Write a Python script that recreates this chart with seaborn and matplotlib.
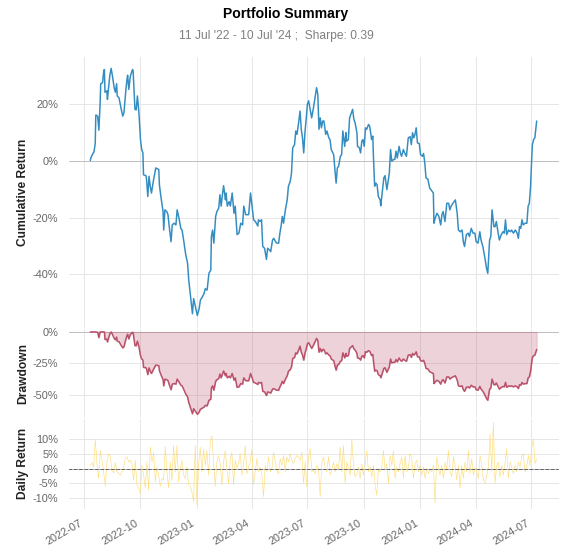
import matplotlib
matplotlib.use("Agg")
import matplotlib.pyplot as plt
import matplotlib.dates as mdates
from matplotlib.ticker import FuncFormatter
import pandas as pd
import seaborn as sns


START = pd.Timestamp("2022-07-11")
END = pd.Timestamp("2024-07-10")

# cumulative return (%), with day offsets from START
cum_days = [
    0, 1, 4, 6, 8, 9, 12, 14, 16, 17, 20, 22, 23, 24, 27, 28, 30, 32, 34, 36,
    39, 41, 43, 44, 47, 50, 53, 55, 58, 60, 61, 63, 65, 66, 69, 70, 73, 75, 77, 79,
    80, 82, 84, 86, 87, 91, 92, 94, 96, 98, 100, 103, 105, 107, 110, 112, 113, 115, 117, 119,
    120, 122, 125, 127, 129, 132, 134, 137, 140, 142, 145, 148, 150, 153, 156, 159, 161, 164, 167, 169,
    172, 175, 178, 180, 183, 186, 188, 191, 194, 197, 198, 200, 202, 205, 207, 210, 212, 214, 216, 218,
    221, 222, 224, 227, 229, 232, 235, 237, 240, 243, 246, 249, 251, 254, 259, 262,
    264, 267, 270, 274, 275, 278, 280, 282, 285, 288, 290, 293, 295, 298, 300, 303, 305, 308, 310, 312,
    314, 316, 319, 322, 324, 327, 329, 331, 334, 336, 338, 341, 343, 345, 347, 349, 351, 353, 355, 357,
    360, 362, 365, 368, 370, 372, 374, 376, 378, 380, 382, 385, 387, 390, 392, 394, 398, 400, 402, 404,
    406, 409, 411, 413, 416, 418, 419, 422, 424, 427, 429, 431, 433, 436, 437, 440, 442, 444, 446, 448,
    450, 452, 455, 457, 460, 462, 463, 465, 467, 469, 471, 474, 475, 478, 480, 482, 485, 487, 489, 491,
    493, 496, 498, 500, 502, 505, 507, 509,
    512, 514, 517, 520, 523, 525, 527, 529, 531, 533, 535, 538, 540, 543, 545, 547, 549, 552, 555, 558,
    561, 562, 564, 567, 570, 573, 575, 577, 580, 583, 586, 588, 590, 593, 597, 600, 602, 605, 608, 610,
    612, 615, 618, 620, 623, 626, 629, 631, 634, 637, 639, 642, 645, 648, 650, 653, 655, 657, 660, 662,
    664, 667, 669, 672, 675, 677, 679, 681, 684, 687, 689, 692, 695, 698, 700, 702, 704, 706, 708, 711,
    714, 716, 718, 720, 722, 723, 725, 727, 730,
]
cum_pct = [
    0, 1, 2.4, 3, 6, 16, 15.6, 10.7, 20, 27, 27.4, 31.5, 32, 24, 24.5, 21.5, 26, 30, 32.4, 30,
    25.6, 24, 27, 22.7, 22, 18.6, 15.6, 16.8, 24.5, 28.6, 30, 25, 29, 30, 32, 31.5, 18, 17.8, 22.7, 18,
    15, 7.4, 3.9, 2.7, -5, -5.3, -6.7, -12.6, -5.5, -9, -11.4, -7.3, -5, -2.6, -2.9, -3.2, -8.5, -12, -15, -18,
    -24.4, -17.3, -17.9, -19, -23, -28.5, -22.6, -22, -22.6, -17.3, -20.2, -23.8, -24.4, -28.5, -33, -36, -42, -48, -53.8, -48.5,
    -51.4, -54.4, -52, -49, -48, -46.7, -45, -45.5, -39.6, -38.5, -26.7, -24.4, -29, -19.6, -17.9, -16.7, -12, -16, -12, -8.8,
    -13.8, -11.4, -16, -14.4, -16, -11.4, -18.5, -16, -26, -25.5, -22, -22.6, -16, -19, -19, -11.4,
    -15, -20.8, -21.4, -23, -20.8, -21.4, -20.8, -30.2, -30.8, -34.7, -30.8, -31.4, -32, -27.9, -27.3, -28.5, -29, -29, -25.5, -23,
    -19.6, -22, -17.3, -13.8, -9, -7.3, -4.4, 4.5, 5.6, 10.4, 9.2, 13.9, 17.4, 11, 8, 2.7, 9.8, 14.5, 19.8, 21,
    17.4, 15, 18.6, 22.7, 25.6, 23.3, 11, 15, 11.5, 13.9, 13.9, 9.2, 10.4, 8, 7.4, 3.9, 2.1, -3.2, -7.9, -2.6,
    -2, 1.5, 2.1, 10.4, 5, 9.8, 6.8, 7.4, 15, 16.8, 18, 14.5, 13.3, 9.8, 5, 4.5, 2.7, 6.8, 7.4, 5,
    11.5, 11, 12.7, 12, 7.4, 8.6, 1.5, -9, -7.9, -8.5, -12.6, -13.8, -15.9, -10.2, -6.1, -5.3, -10.2, -7.3, -4.4, 3.9,
    -0.2, 0.4, 0.4, 3.3, 0.9, 5, 2.7, 1.5,
    3.9, 2.7, 1.5, 8, 8.4, 5.6, 9.8, 8, 9.2, 11.5, 6.2, 6, 2.1, 1.5, 2.5, -0.8, -6.1, -6.5, -9.6, -10.5,
    -11.4, -22, -20.2, -18.5, -19.6, -22.6, -19, -17.9, -21.4, -15, -15, -17.3, -16, -15, -13.8, -18.5, -24.4, -25, -24.4, -28.5,
    -30.2, -26, -25.5, -26.7, -23.8, -25.5, -25.5, -28.5, -29, -25, -27.9, -30.2, -33.8, -37.9, -39.6, -27.9, -26.7, -17.3, -23.2, -23.2,
    -21.4, -25.5, -27.9, -26, -25, -25.5, -20.8, -26, -24.4, -25, -24.4, -25.5, -24.4, -25.5, -27.3, -23.2, -23.8, -20.8, -22.6, -22,
    -22, -16, -15, -9, 1.5, 5.6, 7.4, 8, 13.9,
]

# daily returns (%), evenly spread over the period
daily_pct = [
    1.0, 2.0, 0.5, 9.8, 1.5, -3.3, 6.0, 3.0, -1.0, -6.0, 2.0, 5.0, 4.0, -0.5, -1.5, 2.0, -1.0, -1.5, -2.2, -1.0,
    0.5, 3.3, 4.0, 2.2, 2.8, 1.7, -4.0, 2.8, -5.5, -6.6, -8.3, 1.0, -2.2, -6.6, 2.2, -7.2, 7.2, 2.2, 5.5, -4.4,
    0.5, -2.2, -6.0, -3.3, -3.9, 7.5, -1.1, -6.6, 2.2, -4.0, 7.8, -1.1, 7.8, -4.4, -0.5, 2.8, -2.2, -3.3, 0.5, -5.5,
    -6.1, -7.8, -11.1, 7.8, -12.2, 1.1, 7.2, -1.1, 6.6, 1.1, 6.1, -2.2, 9.0, 11.1, 2.2, -6.0, 2.2, 4.4, 1.7, -5.5,
    2.2, 6.1, -0.5, -5.0, 2.8, 5.5, -5.5, 2.8, 0.0, 1.7, 5.0, -2.2, 1.1, 7.8, -1.7, 0.5, 2.2,
    6.4, -5.5, -1.1, 3.3, -1.1, 0.5, -2.2, -9.4, 1.1, -1.1, 4.0, -1.1, 0.0, 5.5, 2.8, -0.5, -1.7, 3.3, 1.1, 4.4,
    -1.1, 4.0, 2.2, 5.0, 2.8, 1.7, 3.3, 4.4, 3.9, 2.8, 5.5, -5.0, 2.2, -6.1, 3.9, 6.7, -1.1, -0.5, -1.7, 1.1,
    0.0, -9.4, 2.2, 3.9, 0.0, -1.1, 4.0, -2.2, -0.5, 2.2, -1.1, 1.7, -0.5, 7.2, -1.1, 7.8, -5.0, 2.2, 0.0, -2.2,
    10.0, 1.1, -2.8, -1.7, 0.5, -3.3, 1.7, -2.2, 1.1, 6.1, -1.1, 0.5, -2.8, 1.1, -5.5, -9.0, 0.0, -1.1, 0.5, 6.1,
    -0.5, 1.7, -5.0, 4.4, 1.1, 6.1, -3.3, 0.5, -1.1, 1.7, 3.9, -3.3, 4.4, -1.1, 0.5, 5.0,
    3.3, -3.3, 1.7, 2.8, -1.1, 1.1, -2.2, 0.5, -3.3, 0.0, -1.7, 0.0, -1.1, 1.1, -11.7, 4.0, 0.5, -2.2, 1.1, -3.3,
    2.2, -0.5, 6.1, -1.1, -2.8, 3.9, 1.1, -3.9, 1.1, -6.6, 1.1, -3.3, 2.2, -1.1, 6.1, -1.7, 3.3, -2.2, 0.5, -1.1,
    -3.3, 4.4, 1.1, -3.9, -5.0, -2.2, 0.0, 11.7, -1.1, 15.5, -5.0, 1.1, 2.2, -2.8, 1.1, -2.2, 1.7, 6.7, -3.3, 2.2,
    0.5, -1.7, 1.1, -1.1, 2.2, 0.5, 4.0, 5.0, -1.1, 0.5, 4.4, 1.1, 7.0, 10.0, 1.7, 3.3,
]

TITLE = "Portfolio Summary"
SUBTITLE = "11 Jul '22 - 10 Jul '24 ;  Sharpe: 0.39"
colors = ["#FEDD78", "#348DC1", "#BA516B"]

cum_dates = START + pd.to_timedelta(cum_days, unit="D")
daily_dates = pd.date_range(START, END, periods=len(daily_pct))

wealth = 1 + pd.Series(cum_pct, index=cum_dates) / 100
dd = (wealth / wealth.cummax() - 1) * 100

sns.set_theme(style="darkgrid", font_scale=1.1, rc={
    "axes.facecolor": "white",
    "figure.facecolor": "white",
    "grid.color": "#e6e6e6",
    "grid.linewidth": 1,
    "text.color": "#333333",
    "xtick.color": "#666666",
    "ytick.color": "#666666",
})
plt.rcParams["font.family"] = ["Liberation Sans", "DejaVu Sans"]

fig, axes = plt.subplots(3, 1, sharex=True, figsize=(566 / 72, 558 / 72), dpi=72,
                         gridspec_kw={"height_ratios": [3, 1, 1]})
fig.subplots_adjust(left=68 / 566, right=559 / 566, top=1 - 56 / 558,
                    bottom=1 - 509 / 558, hspace=0)

fig.text(0.504, 1 - 14 / 558, TITLE, ha="center", va="center",
         fontsize=14, fontweight="bold", color="black")
fig.text(0.488, 1 - 36 / 558, SUBTITLE, ha="center", va="center",
         fontsize=12, color="gray")

#%% cumulative return
sns.lineplot(x=cum_dates, y=cum_pct, ax=axes[0], color=colors[1], linewidth=1.5, zorder=2)
axes[0].axhline(0, color="silver", lw=1, zorder=1)
axes[0].set_yticks([-40, -20, 0, 20])
axes[0].set_ylabel("Cumulative Return", fontweight="bold", fontsize=12, color="#222222")

#%% drawdown
sns.lineplot(x=dd.index, y=dd.values, ax=axes[1], color=colors[2], linewidth=1.5, zorder=2)
axes[1].axhline(0, color="silver", lw=1, zorder=1)
axes[1].fill_between(dd.index, 0, dd.values, color=colors[2], alpha=0.25)
axes[1].set_yticks([-50, -25, 0])
axes[1].set_ylabel("Drawdown", fontweight="bold", fontsize=12, color="#222222")

#%% daily return
sns.lineplot(x=daily_dates, y=daily_pct, ax=axes[2], color=colors[0], linewidth=0.6, zorder=1)
axes[2].axhline(0, color="silver", lw=1, zorder=1)
axes[2].axhline(0, color="#666666", linestyle="--", lw=1, zorder=2)
axes[2].set_yticks([-10, -5, 0, 5, 10])
axes[2].set_ylabel("Daily Return", fontweight="bold", fontsize=12, color="#222222")

for ax in axes:
    ax.yaxis.set_major_formatter(FuncFormatter(lambda v, _: f"{v:.0f}%"))
    ax.tick_params(axis="y", labelsize=11)
    ax.set_xlabel("")

axes[2].xaxis.set_major_locator(mdates.MonthLocator(bymonth=[1, 4, 7, 10]))
axes[2].xaxis.set_major_formatter(mdates.DateFormatter("%Y-%m"))
axes[2].tick_params(axis="x", labelsize=11)
fig.autofmt_xdate()
fig.subplots_adjust(bottom=1 - 509 / 558)
fig.align_ylabels(axes)

fig.savefig("out.png", dpi=72)
